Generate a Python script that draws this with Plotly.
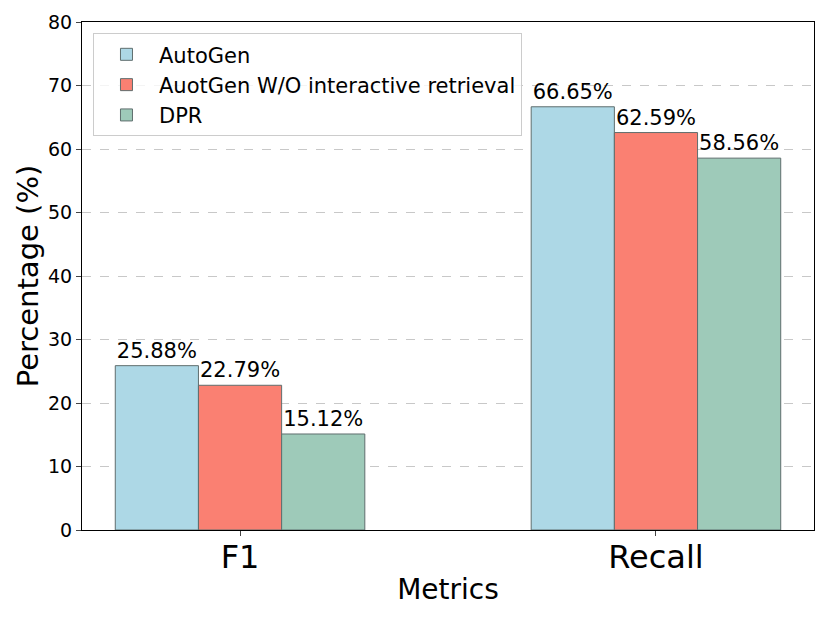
import plotly.graph_objects as go

metrics = ["F1", "Recall"]
autogen = [25.88, 66.65]
autogen_no_retrieval = [22.79, 62.59]
dpr = [15.12, 58.56]
y_ticks = [0, 10, 20, 30, 40, 50, 60, 70, 80]

series = [
    ("AutoGen", autogen, "#ADD8E6"),
    ("AuotGen W/O interactive retrieval", autogen_no_retrieval, "#FA8072"),
    ("DPR", dpr, "#9ECAB9"),
]

fig = go.Figure()

for name, values, color in series:
    fig.add_bar(
        x=metrics,
        y=values,
        name=name,
        legendgroup=name,
        marker=dict(color=color, line=dict(color="#5f6e6e", width=1)),
        texttemplate="%{y:.2f}%",
        textposition="outside",
        constraintext="none",
        cliponaxis=False,
        textfont=dict(size=21, color="black"),
    )

# page body adds an 8px offset, so the figure is sized to fit the window
fig.update_layout(
    width=822,
    height=615,
    barmode="group",
    bargap=0.4,
    bargroupgap=0,
    plot_bgcolor="white",
    paper_bgcolor="white",
    font=dict(family="DejaVu Sans", color="black"),
    margin=dict(l=74, r=16, t=14, b=93),
    legend=dict(
        x=0.015,
        y=0.978,
        xanchor="left",
        yanchor="top",
        bgcolor="rgba(255,255,255,0.8)",
        bordercolor="#cccccc",
        borderwidth=1,
        font=dict(size=21),
        traceorder="grouped",
        tracegroupgap=0,
        itemwidth=55,
    ),
)

fig.update_xaxes(
    range=[-0.38, 1.38],
    showline=True,
    linecolor="black",
    linewidth=1.2,
    mirror=True,
    ticks="outside",
    ticklen=5,
    ticklabelstandoff=-7,
    tickfont=dict(size=32),
    title=dict(text="Metrics", font=dict(size=28), standoff=4),
    automargin=False,
)

fig.update_yaxes(
    range=[0, 80],
    tickvals=y_ticks,
    showline=True,
    linecolor="black",
    linewidth=1.2,
    mirror=True,
    ticks="outside",
    ticklen=5,
    tickfont=dict(size=19),
    showgrid=True,
    gridcolor="#c8c8c8",
    griddash="dash",
    zeroline=False,
    title=dict(text="Percentage (%)", font=dict(size=29), standoff=0),
    automargin=False,
)

fig.write_html("out.html")
